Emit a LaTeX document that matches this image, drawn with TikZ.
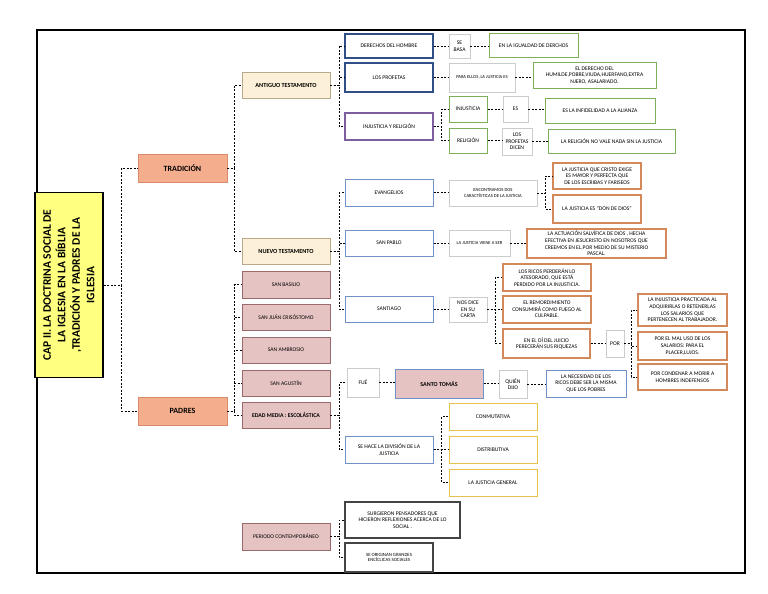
\documentclass[tikz,border=0pt]{standalone}
\usepackage{fontspec}
\setmainfont{Carlito}
\begin{document}
\begin{tikzpicture}[x=1pt,y=-1pt,
  base/.style={draw,inner xsep=1pt,inner ysep=0pt,align=center,font=\fontsize{5.6}{6.6}\selectfont},
  salmon/.style={base,fill=cSal,draw=cSalB,font=\fontsize{8}{9}\selectfont\bfseries},
  cream/.style={base,fill=cCre,draw=cCreB,font=\fontsize{6.2}{7}\selectfont\bfseries},
  pinkb/.style={base,fill=cPin,draw=cPinB,line width=0.8pt},
  dblue/.style={base,draw=cDBl,line width=1.2pt},
  lblue/.style={base,draw=cLBl,line width=1pt},
  purp/.style={base,draw=cPur,line width=1.2pt},
  grayb/.style={base,draw=cGra,line width=0.8pt},
  green/.style={base,draw=cGre,line width=1pt},
  orng/.style={base,draw=cOra,line width=1.2pt},
  yelb/.style={base,draw=cYel,line width=1pt},
  dgray/.style={base,draw=cDGr,line width=1.2pt},
  conn/.style={draw=black,dash pattern=on 2pt off 1.5pt,line width=0.6pt}]
\definecolor{cSal}{HTML}{F4AE8E}\definecolor{cSalB}{HTML}{D98B6A}
\definecolor{cCre}{HTML}{FDF0D8}\definecolor{cCreB}{HTML}{B8A98A}
\definecolor{cPin}{HTML}{E6C3C3}\definecolor{cPinB}{HTML}{9B6B6B}
\definecolor{cDBl}{HTML}{2F4F86}\definecolor{cLBl}{HTML}{6F93C6}
\definecolor{cPur}{HTML}{7D5FA0}\definecolor{cGra}{HTML}{CCCCCC}
\definecolor{cGre}{HTML}{7DAF5A}\definecolor{cOra}{HTML}{D4895A}
\definecolor{cYel}{HTML}{E6C24A}\definecolor{cDGr}{HTML}{444444}
\definecolor{cTit}{HTML}{FFFF80}
\newcommand\bx[7]{\pgfmathsetmacro\bw{#4-#2}\pgfmathsetmacro\bh{#5-#3}%
  \node[#6,minimum width=\bw pt,minimum height=\bh pt] (#1) at ({(#2+#4)/2},{(#3+#5)/2}) {#7};}
\useasboundingbox (0,0) rectangle (768,594);
\fill[white] (0,0) rectangle (768,594);
\draw[line width=1.5pt] (37,30) rectangle (745,573);
% title
\node[draw,line width=1.5pt,fill=cTit,rotate=90,minimum width=185pt,minimum height=68pt,align=center,inner sep=1pt,font=\fontsize{11.5}{14.5}\selectfont\bfseries] (tit) at (69,285) {CAP II. LA DOCTRINA SOCIAL DE\\ LA IGLESIA EN LA BÍBLIA\\ ,TRADICIÓN Y PADRES DE LA\\ IGLESIA};
\bx{tra}{138}{154}{227}{182}{salmon}{TRADICIÓN}
\bx{pad}{138}{397}{227}{425}{salmon}{PADRES}
\bx{at}{242}{72}{330}{98}{cream}{ANTIGUO TESTAMENTO}
\bx{nt}{242}{238}{330}{264}{cream}{NUEVO TESTAMENTO}
\bx{sb}{242}{271}{330}{298}{pinkb}{SAN BASILIO}
\bx{sj}{242}{304}{330}{330}{pinkb}{SAN JUÁN CRISÓSTOMO}
\bx{sa}{242}{337}{330}{363}{pinkb}{SAN AMBROSIO}
\bx{sg}{242}{370}{330}{396}{pinkb}{SAN AGUSTÍN}
\bx{em}{242}{402}{330}{428}{pinkb,font=\fontsize{5.8}{6.6}\selectfont\bfseries}{EDAD MEDIA : ESCOLÁSTICA}
\bx{pc}{242}{523}{330}{550}{pinkb}{PERIODO CONTEMPORÁNEO}
% AT
\bx{dh}{345}{34}{433}{58}{dblue}{DERECHOS DEL HOMBRE}
\bx{lp}{345}{63}{433}{92}{dblue}{LOS PROFETAS}
\bx{ir}{345}{113}{433}{140}{purp}{INJUSTICIA Y RELIGIÓN}
\bx{sbs}{449}{34}{470}{58}{grayb}{SE\\ BASA}
\bx{eig}{489}{34}{578}{58}{green}{EN LA IGUALDAD DE DERCHOS}
\bx{pe}{449}{63}{515}{92}{grayb,font=\fontsize{4.6}{5.4}\selectfont}{PARA ELLOS ,LA JUSTICIA ES}
\bx{ed}{533}{63}{656}{88}{green}{EL DERECHO DEL\\ HUMILDE,POBRE,VIUDA,HUERFANO,EXTRA\\ NJERO, ASALARIADO.}
\bx{inj}{449}{96}{487}{122}{green}{INJUSTICIA}
\bx{es}{503}{96}{528}{122}{grayb}{ES}
\bx{eif}{545}{98}{655}{123}{green}{ES LA INFIDELIDAD A LA ALIANZA}
\bx{rel}{449}{128}{487}{153}{green}{RELIGIÓN}
\bx{lpd}{502}{128}{532}{155}{grayb}{LOS\\ PROFETAS\\ DICEN}
\bx{rnv}{548}{129}{675}{153}{green}{LA RELIGIÓN NO VALE NADA SIN LA JUSTICIA}
% NT
\bx{ev}{345}{179}{433}{206}{lblue}{EVANGELIOS}
\bx{enc}{449}{180}{537}{206}{grayb,font=\fontsize{4.6}{5.6}\selectfont}{ENCONTRAMOS DOS\\ CARACTÍSTICAS DE LA JUSTICIA}
\bx{jce}{553}{163}{641}{189}{orng}{LA JUSTICIA QUE CRISTO EXIGE\\ ES MAYOR Y PERFECTA QUE\\ DE LOS ESCRIBAS Y FARISEOS}
\bx{jdd}{553}{195}{641}{223}{orng}{LA JUSTICIA ES "DON DE DIOS"}
\bx{sp}{345}{230}{433}{256}{lblue}{SAN PABLO}
\bx{jvs}{449}{230}{510}{256}{grayb,font=\fontsize{4.6}{5.4}\selectfont}{LA JUSTICIA VIENE A SER}
\bx{asd}{527}{229}{666}{258}{orng}{LA ACTUACIÓN SALVÍFICA DE DIOS , HECHA\\ EFECTIVA EN JESUCRISTO EN NOSOTROS QUE\\ CREEMOS EN EL,POR MEDIO DE SU MISTERIO\\ PASCAL.}
\bx{st}{345}{296}{433}{322}{lblue}{SANTIAGO}
\bx{nd}{449}{297}{487}{322}{grayb}{NOS DICE\\ EN SU\\ CARTA}
\bx{lr}{503}{264}{591}{291}{orng}{LOS RICOS PERDERÁN  LO\\ ATESORADO, QUE ESTÁ\\ PERDIDO  POR LA INJUSTICIA.}
\bx{rem}{503}{296}{591}{323}{orng}{EL REMORDIMIENTO\\ CONSUMIRÁ COMO FUEGO AL\\ CULPABLE.}
\bx{edj}{503}{329}{590}{358}{orng}{EN EL DÍ DEL JUICIO\\ PERECERÁN SUS RIQUEZAS}
\bx{por}{606}{330}{624}{357}{grayb}{POR}
\bx{ljp}{638}{294}{727}{326}{orng}{LA INJUSTICIA  PRACTICADA AL\\ ADQUIRIRLAS O RETENERLAS\\ LOS SALARIOS QUE\\ PERTENECEN AL TRABAJADOR.}
\bx{pmu}{638}{332}{727}{360}{orng}{POR EL MAL USO DE LOS\\ SALARIOS: PARA EL\\ PLACER,LUJOS.}
\bx{pcm}{638}{364}{727}{390}{orng}{POR CONDENAR A MORIR A\\ HOMBRES INDEFENSOS}
% Edad media
\bx{fue}{347}{368}{379}{397}{grayb}{FUÉ}
\bx{sto}{395}{369}{483}{398}{pinkb,draw=cLBl,line width=1pt,font=\fontsize{6}{7}\selectfont\bfseries}{SANTO TOMÁS}
\bx{qd}{499}{370}{527}{398}{grayb}{QUIÉN\\ DIJO}
\bx{lnr}{546}{370}{626}{397}{lblue}{LA NECESIDAD DE LOS\\ RICOS DEBE SER LA MISMA\\ QUE LOS POBRES}
\bx{shd}{345}{436}{433}{463}{lblue}{SE HACE LA DIVISIÓN DE LA\\ JUSTICIA}
\bx{con}{449}{403}{537}{430}{yelb}{CONMUTATIVA}
\bx{dis}{449}{436}{537}{463}{yelb}{DISTRIBUTIVA}
\bx{ljg}{449}{469}{537}{496}{yelb}{LA JUSTICIA GENERAL}
\bx{sur}{345}{502}{460}{538}{dgray}{SURGIERON PENSADORES QUE\\ HICIERON REFLEXIONES ACERCA DE LO\\ SOCIAL .}
\bx{seo}{345}{543}{433}{572}{dgray,font=\fontsize{4.8}{5.8}\selectfont}{SE ORIGINAN GRANDES\\ ENCÍCLICAS SOCIALES}
% connectors
\foreach \c in {tra,pad} \draw[conn] (tit.south) -- ([xshift=18pt]tit.south) |- (\c.west);
\foreach \c in {at,nt} \draw[conn] (tra.east) -- ([xshift=7pt]tra.east) |- (\c.west);
\foreach \c in {sb,sj,sa,sg,em} \draw[conn] (pad.east) -- ([xshift=7pt]pad.east) |- (\c.west);
\foreach \c in {dh,lp,ir} \draw[conn] (at.east) -- ([xshift=9pt]at.east) |- (\c.west);
\foreach \c in {ev,sp,st} \draw[conn] (nt.east) -- ([xshift=9pt]nt.east) |- (\c.west);
\foreach \c in {fue,shd} \draw[conn] (em.east) -- ([xshift=9pt]em.east) |- (\c.west);
\foreach \c in {sur,seo} \draw[conn] (pc.east) -- ([xshift=9pt]pc.east) |- (\c.west);
\draw[conn] (dh.east) -- (sbs.west);
\draw[conn] (sbs.east) -- (eig.west);
\draw[conn] (lp.east) -- (pe.west);
\draw[conn] (pe.east) -- (pe.east -| ed.west);
\foreach \c in {inj,rel} \draw[conn] (ir.east) -- ([xshift=8pt]ir.east) |- (\c.west);
\draw[conn] (inj.east) -- (es.west);
\draw[conn] (es.east) -- (es.east -| eif.west);
\draw[conn] (rel.east) -- (rel.east -| lpd.west);
\draw[conn] (lpd.east) -- (lpd.east -| rnv.west);
\draw[conn] (ev.east) -- (ev.east -| enc.west);
\foreach \c in {jce,jdd} \draw[conn] (enc.east) -- ([xshift=8pt]enc.east) |- (\c.west);
\draw[conn] (sp.east) -- (sp.east -| jvs.west);
\draw[conn] (jvs.east) -- (jvs.east -| asd.west);
\draw[conn] (st.east) -- (st.east -| nd.west);
\foreach \c in {lr,rem,edj} \draw[conn] (nd.east) -- ([xshift=8pt]nd.east) |- (\c.west);
\draw[conn] (edj.east) -- (edj.east -| por.west);
\foreach \c in {ljp,pmu,pcm} \draw[conn] (por.east) -- ([xshift=7pt]por.east) |- (\c.west);
\draw[conn] (fue.east) -- (fue.east -| sto.west);
\draw[conn] (sto.east) -- (sto.east -| qd.west);
\draw[conn] (qd.east) -- (qd.east -| lnr.west);
\foreach \c in {con,dis,ljg} \draw[conn] (shd.east) -- ([xshift=8pt]shd.east) |- (\c.west);
\end{tikzpicture}
\end{document}
